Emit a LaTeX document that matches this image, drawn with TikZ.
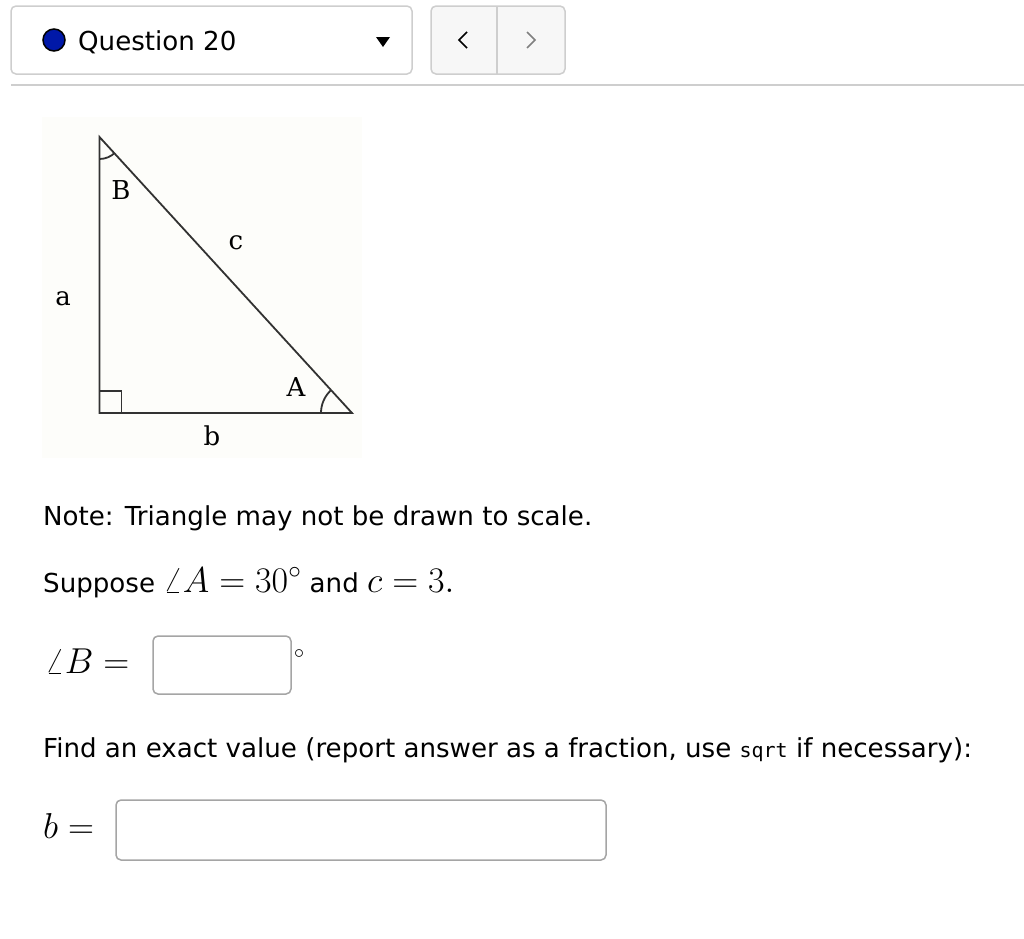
\RequirePackage{fix-cm}
\documentclass[tikz,border=0pt]{standalone}
\usepackage{fontspec}
\setmainfont{DejaVu Sans}
\setmonofont{DejaVu Sans Mono}
\newfontfamily\figserif{DejaVu Serif}
\definecolor{qblue}{RGB}{0,24,168}
\definecolor{lightline}{RGB}{206,206,206}
\definecolor{boxline}{RGB}{165,165,165}
\definecolor{figbg}{RGB}{253,253,250}
\definecolor{triline}{RGB}{50,50,50}
\newcommand{\uitext}{\fontsize{26.1}{30}\selectfont}
\newcommand{\bigmath}{\fontsize{36}{40}\selectfont}
\newcommand{\lblfont}{\figserif\fontsize{26}{30}\selectfont}

\begin{document}
\begin{tikzpicture}[x=1pt, y=-1pt,
  ui/.style={anchor=base west, inner sep=0pt, font=\uitext},
  lbl/.style={inner sep=0pt, font=\lblfont},
  tri/.style={draw=triline, line width=1.8pt},
  inbox/.style={draw=boxline, line width=1.5pt, rounded corners=5pt, fill=white}]
\useasboundingbox (0,0) rectangle (1024,938);
\draw[lightline, line width=1.5pt, rounded corners=5pt] (11,6) rectangle (412,74);
\node[circle, draw=black, fill=qblue, line width=1.5pt, minimum size=22pt, inner sep=0pt] (dot) at (54,40) {};
\node[ui] (q) at (78,50) {Question 20};
\fill (376,37) -- (390,37) -- (383,47) -- cycle;
\filldraw[fill=black!3, draw=lightline, line width=1.5pt, rounded corners=5pt] (431,6) rectangle (565,74);
\draw[lightline, line width=1.5pt] (497,6) -- (497,74);
\draw[line width=1.7pt] (467,32) -- (459,40) -- (467,48);
\draw[gray, line width=1.7pt] (527,32) -- (535,40) -- (527,48);
\draw[lightline, line width=1.5pt] (11,85) -- (1024,85);

\fill[figbg] (42,117) rectangle (362,458);
\coordinate (B) at (99.5,137);
\coordinate (C) at (99.5,413);
\coordinate (A) at (352,413);
\draw[tri] (B) -- (C) -- (A) -- cycle;
\draw[tri] (C) ++(0,-22) -| ++(22,22);
\begin{scope}
\clip (B) -- (C) -- (A) -- cycle;
\draw[tri] (B) circle (22pt);
\draw[tri] (A) circle (31pt);
\end{scope}
\node[lbl] (lB) at (121,190) {B};
\node[lbl] (lc) at (236,243) {c};
\node[lbl] (la) at (63,299) {a};
\node[lbl] (lA) at (296,387) {A};
\node[lbl] (lb) at (212,436) {b};

\node[ui] (note) at (43,525) {Note: Triangle may not be drawn to scale.};
\node[ui] (given) at (43,592) {Suppose {\bigmath$\angle A=30^\circ$} and {\bigmath$c=3.$}};
\node[ui] (angB) at (45,673) {\bigmath$\angle B=$};
\node[inbox, minimum width=138pt, minimum height=58pt] (boxB) at (222,665) {};
\node[inner sep=0pt] (deg) at (299,654) {\fontsize{20}{20}\selectfont$\circ$};
\node[ui] (find) at (43,757) {Find an exact value (report answer as a fraction, use {\ttfamily\fontsize{20}{20}\selectfont sqrt} if necessary):};
\node[ui] (bval) at (43,838) {\bigmath$b=$};
\node[inbox, minimum width=490pt, minimum height=60pt] (boxb) at (361,830) {};
\end{tikzpicture}
\end{document}
